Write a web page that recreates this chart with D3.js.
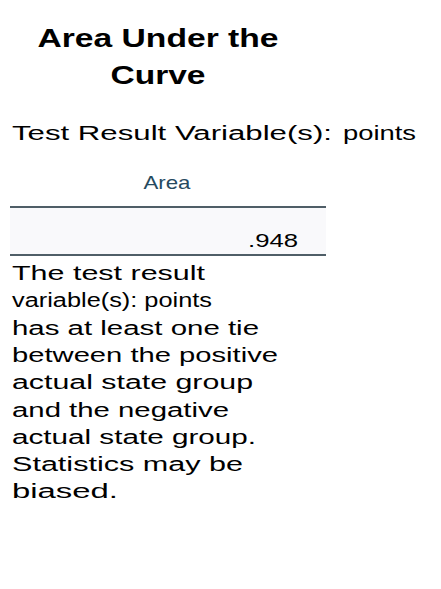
<!DOCTYPE html>
<html><head><meta charset="utf-8">
<script src="https://cdn.jsdelivr.net/npm/d3@7"></script>
<style>body{margin:0;background:#fff}</style></head>
<body><svg id="c" width="441" height="589"></svg>
<script>
const titleLines = ["Area Under the", "Curve"];
const variableLabel = "Test Result Variable(s):";
const variableName = "points";
const columns = ["Area"];
const values = [0.948];
const footnote = ["The test result","variable(s): points","has at least one tie","between the positive","actual state group","and the negative","actual state group.","Statistics may be","biased."];
// measured widths of text in reference (layout only)
const titleW = [241, 95];
const footW = [193, 200, 247, 266, 241, 217, 244, 231, 106];

const svg = d3.select("#c");
const font = "Liberation Sans, Arial, sans-serif";
svg.selectAll("text.t").data(titleLines).join("text").attr("class","t")
  .attr("x",158).attr("y",(d,i)=>47+i*37).attr("text-anchor","middle")
  .attr("font-family",font).attr("font-weight","bold").attr("font-size",25).attr("fill","#000")
  .attr("textLength",(d,i)=>titleW[i]).attr("lengthAdjust","spacingAndGlyphs").text(d=>d);
svg.append("text").attr("x",12).attr("y",140).attr("font-family",font).attr("font-size",20)
  .attr("textLength",320).attr("lengthAdjust","spacingAndGlyphs").text(variableLabel);
svg.append("text").attr("x",343).attr("y",140).attr("font-family",font).attr("font-size",20)
  .attr("textLength",73).attr("lengthAdjust","spacingAndGlyphs").text(variableName);
const x = d3.scaleBand().domain(columns).range([10,326]);
svg.selectAll("text.h").data(columns).join("text").attr("class","h")
  .attr("x",d=>x(d)+x.bandwidth()/2-1).attr("y",189).attr("text-anchor","middle")
  .attr("font-family",font).attr("font-size",19).attr("fill","#264a60")
  .attr("textLength",47).attr("lengthAdjust","spacingAndGlyphs").text(d=>d);
svg.append("rect").attr("x",10).attr("y",208).attr("width",316).attr("height",46).attr("fill","#f9f9fb");
svg.append("line").attr("x1",10).attr("x2",326).attr("y1",207).attr("y2",207).attr("stroke","#152935").attr("stroke-width",1.5);
svg.append("line").attr("x1",10).attr("x2",326).attr("y1",255).attr("y2",255).attr("stroke","#152935").attr("stroke-width",1.5);
const fmt = v => d3.format(".3f")(v).replace(/^0/,"");
svg.selectAll("text.v").data(values).join("text").attr("class","v")
  .attr("x",298).attr("y",247).attr("text-anchor","end")
  .attr("font-family",font).attr("font-size",19).attr("fill","#000")
  .attr("textLength",50).attr("lengthAdjust","spacingAndGlyphs").text(fmt);
svg.selectAll("text.f").data(footnote).join("text").attr("class","f")
  .attr("x",12).attr("y",(d,i)=>280+i*27.3)
  .attr("font-family",font).attr("font-size",20).attr("fill","#000")
  .attr("textLength",(d,i)=>footW[i]).attr("lengthAdjust","spacingAndGlyphs").text(d=>d);
</script></body></html>
